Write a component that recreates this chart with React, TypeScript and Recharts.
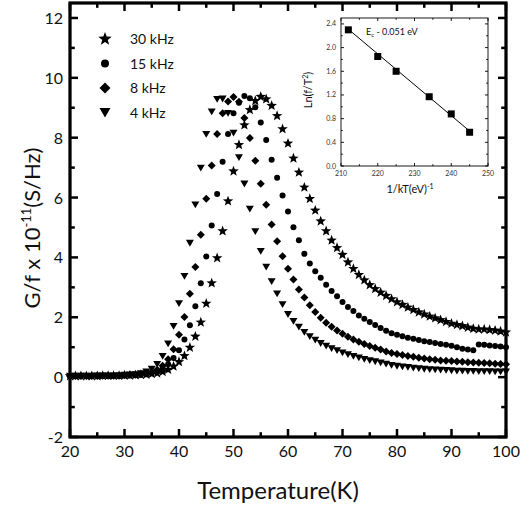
import React from "react";
import {
  ScatterChart,
  Scatter,
  XAxis,
  YAxis,
  ReferenceArea,
  ReferenceLine,
} from "recharts";

// Temperature grid (K)
const temps = [
  20, 21, 22, 23, 24, 25, 26, 27, 28, 29,
  30, 31, 32, 33, 34, 35, 36, 37, 38, 39,
  40, 41, 42, 43, 44, 45, 46, 47, 48, 49,
  50, 51, 52, 53, 54, 55, 56, 57, 58, 59,
  60, 61, 62, 63, 64, 65, 66, 67, 68, 69,
  70, 71, 72, 73, 74, 75, 76, 77, 78, 79,
  80, 81, 82, 83, 84, 85, 86, 87, 88, 89,
  90, 91, 92, 93, 94, 95, 96, 97, 98, 99, 100,
];

// G/f x 1e-11 (S/Hz) per frequency
const g30k = [
  0.04, 0.04, 0.04, 0.04, 0.04, 0.04, 0.05, 0.05, 0.05, 0.05,
  0.06, 0.06, 0.07, 0.08, 0.09, 0.11, 0.13, 0.18, 0.25, 0.36,
  0.51, 0.71, 0.99, 1.36, 1.83, 2.46, 3.14, 3.98, 4.88, 5.88,
  6.88, 7.76, 8.42, 8.93, 9.23, 9.37, 9.29, 9.07, 8.73, 8.29,
  7.81, 7.31, 6.84, 6.34, 5.96, 5.57, 5.21, 4.88, 4.57, 4.32,
  4.09, 3.84, 3.62, 3.42, 3.24, 3.08, 2.95, 2.83, 2.72, 2.61,
  2.51, 2.42, 2.33, 2.25, 2.17, 2.1, 2.03, 1.97, 1.91, 1.85,
  1.79, 1.75, 1.71, 1.66, 1.62, 1.6, 1.6, 1.58, 1.56, 1.53, 1.5,
];
const g15k = [
  0.04, 0.04, 0.04, 0.04, 0.04, 0.04, 0.05, 0.05, 0.05, 0.05,
  0.06, 0.07, 0.08, 0.09, 0.11, 0.14, 0.2, 0.29, 0.43, 0.64,
  0.9, 1.26, 1.73, 2.37, 3.14, 4.03, 5.07, 6.12, 7.2, 8.12,
  8.82, 9.17, 9.39, 9.32, 9.02, 8.51, 7.92, 7.26, 6.66, 6.07,
  5.53, 5.01, 4.57, 4.12, 3.8, 3.54, 3.32, 3.09, 2.88, 2.7,
  2.51, 2.34, 2.21, 2.06, 1.95, 1.84, 1.74, 1.64, 1.55, 1.47,
  1.42, 1.37, 1.32, 1.28, 1.24, 1.2, 1.17, 1.14, 1.11, 1.08,
  1.05, 1.0, 0.95, 0.92, 0.9, 1.09, 1.08, 1.06, 1.04, 1.02, 1.0,
];
const g8k = [
  0.04, 0.04, 0.04, 0.04, 0.04, 0.04, 0.05, 0.05, 0.05, 0.05,
  0.06, 0.07, 0.08, 0.1, 0.12, 0.17, 0.25, 0.38, 0.6, 0.93,
  1.42, 2.01, 2.79, 3.68, 4.76, 5.96, 7.07, 8.12, 8.82, 9.21,
  9.36, 9.2, 8.66, 7.99, 7.23, 6.46, 5.76, 5.1, 4.54, 4.04,
  3.62, 3.26, 2.93, 2.66, 2.4, 2.18, 1.98, 1.82, 1.68, 1.56,
  1.45, 1.35, 1.26, 1.18, 1.11, 1.04, 0.98, 0.92, 0.86, 0.81,
  0.77, 0.74, 0.71, 0.68, 0.65, 0.62, 0.6, 0.58, 0.56, 0.55,
  0.54, 0.52, 0.51, 0.5, 0.49, 0.48, 0.47, 0.46, 0.45, 0.44, 0.43,
];
const g4k = [
  0.04, 0.04, 0.04, 0.04, 0.04, 0.05, 0.05, 0.05, 0.05, 0.06,
  0.07, 0.08, 0.09, 0.12, 0.18, 0.27, 0.43, 0.7, 1.12, 1.7,
  2.46, 3.37, 4.48, 5.76, 6.99, 8.12, 8.87, 9.29, 9.3, 8.82,
  8.16, 7.34, 6.46, 5.62, 4.87, 4.21, 3.68, 3.2, 2.79, 2.43,
  2.1, 1.87, 1.68, 1.5, 1.36, 1.24, 1.13, 1.04, 0.96, 0.89,
  0.82, 0.76, 0.7, 0.65, 0.6, 0.56, 0.52, 0.48, 0.44, 0.4,
  0.37, 0.35, 0.33, 0.31, 0.29, 0.27, 0.26, 0.25, 0.24, 0.23,
  0.22, 0.21, 0.21, 0.2, 0.2, 0.19, 0.19, 0.19, 0.18, 0.18, 0.18,
];

const xTicks = [20, 25, 30, 35, 40, 45, 50, 55, 60, 65, 70, 75, 80, 85, 90, 95, 100];
const yTicks = [-2, -1, 0, 1, 2, 3, 4, 5, 6, 7, 8, 9, 10, 11, 12];

// Inset: Arrhenius plot
const invKT = [212, 220, 225, 234, 240, 245];
const lnFT2 = [2.3, 1.85, 1.6, 1.17, 0.88, 0.57];
const fitX = [212, 245];
const fitY = [2.31, 0.59];
const insetXTicks = [210, 215, 220, 225, 230, 235, 240, 245, 250];
const insetYTicks = [0, 0.2, 0.4, 0.6, 0.8, 1.0, 1.2, 1.4, 1.6, 1.8, 2.0, 2.2, 2.4];

const FONT = "Lato, 'Open Sans', sans-serif";
// plot boxes in page pixels (match the chart margins below)
const PLOT = { left: 70, right: 506, top: 3, bottom: 437 };
const INSET = { left: 341, right: 488, top: 18, bottom: 166 };

const toPoints = (ys: number[]) => temps.map((t, i) => ({ x: t, y: ys[i] }));

// marker shapes
const starPath = (cx: number, cy: number, r: number) => {
  const pts: string[] = [];
  for (let i = 0; i < 10; i++) {
    const rad = i % 2 === 0 ? r : r * 0.42;
    const a = -Math.PI / 2 + (i * Math.PI) / 5;
    pts.push(`${cx + rad * Math.cos(a)},${cy + rad * Math.sin(a)}`);
  }
  return pts.join(" ");
};

const Star = ({ cx, cy, r = 5.5 }: any) => <polygon points={starPath(cx, cy, r)} fill="#000" />;
const Dot = ({ cx, cy, r = 3 }: any) => <circle cx={cx} cy={cy} r={r} fill="#000" />;
const Diamond = ({ cx, cy, r = 4 }: any) => (
  <polygon points={`${cx},${cy - r} ${cx + r},${cy} ${cx},${cy + r} ${cx - r},${cy}`} fill="#000" />
);
const Tri = ({ cx, cy, r = 4 }: any) => (
  <polygon points={`${cx - r},${cy - r * 0.8} ${cx + r},${cy - r * 0.8} ${cx},${cy + r * 0.9}`} fill="#000" />
);
const Square = ({ cx, cy }: any) => <rect x={cx - 3.5} y={cy - 3.5} width={7} height={7} fill="#000" />;

// tick labels through recharts (tick marks are drawn in the frame overlay)
const MainXTick = ({ x, y, payload }: any) =>
  payload.value % 10 === 0 ? (
    <text x={x} y={y + 20} textAnchor="middle" fontSize={16} fontFamily={FONT} fill="#111">
      {payload.value}
    </text>
  ) : (
    <g />
  );

const MainYTick = ({ x, y, payload }: any) =>
  payload.value % 2 === 0 ? (
    <text x={x - 7} y={y + 6} textAnchor="end" fontSize={16} fontFamily={FONT} fill="#111">
      {payload.value}
    </text>
  ) : (
    <g />
  );

const InsetXTick = ({ x, y, payload }: any) =>
  payload.value % 10 === 0 ? (
    <text x={x} y={y + 10} textAnchor="middle" fontSize={7} fontFamily={FONT} fill="#333">
      {payload.value}
    </text>
  ) : (
    <g />
  );

const InsetYTick = ({ x, y, payload }: any) =>
  Math.round(payload.value * 10) % 4 === 0 ? (
    <text x={x - 5} y={y + 2.5} textAnchor="end" fontSize={7} fontFamily={FONT} fill="#333">
      {payload.value.toFixed(1)}
    </text>
  ) : (
    <g />
  );

// Frame with inward ticks on all four sides
const Frame = ({ box, xDom, yDom, xt, yt, isMajorX, isMajorY, w, len }: any) => {
  const px = (v: number) => box.left + ((v - xDom[0]) / (xDom[1] - xDom[0])) * (box.right - box.left);
  const py = (v: number) => box.bottom - ((v - yDom[0]) / (yDom[1] - yDom[0])) * (box.bottom - box.top);
  return (
    <g stroke="#000" strokeWidth={w} fill="none">
      <rect x={box.left} y={box.top} width={box.right - box.left} height={box.bottom - box.top} />
      {xt.map((v: number) => {
        const l = isMajorX(v) ? len : len * 0.6;
        return (
          <g key={`x${v}`}>
            <line x1={px(v)} x2={px(v)} y1={box.bottom} y2={box.bottom - l} />
            <line x1={px(v)} x2={px(v)} y1={box.top} y2={box.top + l} />
          </g>
        );
      })}
      {yt.map((v: number) => {
        const l = isMajorY(v) ? len : len * 0.6;
        return (
          <g key={`y${v}`}>
            <line x1={box.left} x2={box.left + l} y1={py(v)} y2={py(v)} />
            <line x1={box.right - l} x2={box.right} y1={py(v)} y2={py(v)} />
          </g>
        );
      })}
    </g>
  );
};

const legendItems = [
  { label: "30 kHz", Shape: Star, r: 7 },
  { label: "15 kHz", Shape: Dot, r: 4 },
  { label: "8 kHz", Shape: Diamond, r: 5.5 },
  { label: "4 kHz", Shape: Tri, r: 5.5 },
];

const App: React.FC = () => {
  return (
    <div style={{ position: "absolute", left: 0, top: 0, width: 520, height: 505, background: "#fff" }}>
      <ScatterChart width={520} height={505} margin={{ top: 3, right: 14, left: 10, bottom: 0 }}>
        <XAxis
          type="number"
          dataKey="x"
          domain={[20, 100]}
          ticks={xTicks}
          interval={0}
          height={68}
          axisLine={false}
          tickLine={false}
          tickSize={0}
          tickMargin={0}
          tick={<MainXTick />}
          label={{
            content: () => (
              <text x={278} y={499} textAnchor="middle" fontSize={24} fontFamily={FONT} fill="#111">
                Temperature(K)
              </text>
            ),
          }}
        />
        <YAxis
          type="number"
          dataKey="y"
          domain={[-2, 12.5]}
          ticks={yTicks}
          interval={0}
          allowDataOverflow
          width={60}
          axisLine={false}
          tickLine={false}
          tickSize={0}
          tickMargin={0}
          tick={<MainYTick />}
          label={{
            content: () => (
              <text transform="translate(40,228) rotate(-90)" textAnchor="middle" fontSize={22} fontFamily={FONT} fill="#111">
                G/f x 10
                <tspan dy={-9} fontSize={13}>-11</tspan>
                <tspan dy={9}>(S/Hz)</tspan>
              </text>
            ),
          }}
        />
        <ReferenceArea x1={20} x2={100} y1={-2} y2={12.5} fill="none" stroke="#000" strokeWidth={3} ifOverflow="visible" />
        <Scatter data={toPoints(g4k)} shape={<Tri />} isAnimationActive={false} />
        <Scatter data={toPoints(g8k)} shape={<Diamond />} isAnimationActive={false} />
        <Scatter data={toPoints(g15k)} shape={<Dot />} isAnimationActive={false} />
        <Scatter data={toPoints(g30k)} shape={<Star />} isAnimationActive={false} />
      </ScatterChart>

      {/* Legend */}
      <svg style={{ position: "absolute", left: 90, top: 26 }} width={110} height={100}>
        {legendItems.map(({ label, Shape, r }, i) => (
          <g key={label}>
            <Shape cx={15} cy={13 + i * 24.5} r={r} />
            <text x={40} y={18 + i * 24.5} fontSize={14} fontFamily={FONT} fill="#111">
              {label}
            </text>
          </g>
        ))}
      </svg>

      {/* Inset */}
      <div style={{ position: "absolute", left: 300, top: 0 }}>
        <ScatterChart width={220} height={200} margin={{ top: 18, right: 32, left: 10, bottom: 0 }}>
          <XAxis
            type="number"
            dataKey="x"
            domain={[210, 250]}
            ticks={insetXTicks}
            interval={0}
            height={34}
            axisLine={false}
            tickLine={false}
            tickSize={0}
            tickMargin={0}
            tick={<InsetXTick />}
            label={{
              content: () => (
                <text x={110} y={193} textAnchor="middle" fontSize={11} fontFamily={FONT} fill="#111">
                  1/kT(eV)
                  <tspan dy={-4} fontSize={7}>-1</tspan>
                </text>
              ),
            }}
          />
          <YAxis
            type="number"
            dataKey="y"
            domain={[0, 2.5]}
            ticks={insetYTicks}
            interval={0}
            width={31}
            axisLine={false}
            tickLine={false}
            tickSize={0}
            tickMargin={0}
            tick={<InsetYTick />}
            label={{
              content: () => (
                <text transform="translate(12,90) rotate(-90)" textAnchor="middle" fontSize={11} fontFamily={FONT} fill="#111">
                  Ln(f/T
                  <tspan dy={-4} fontSize={7}>2</tspan>
                  <tspan dy={4}>)</tspan>
                </text>
              ),
            }}
          />
          <ReferenceLine
            segment={[
              { x: fitX[0], y: fitY[0] },
              { x: fitX[1], y: fitY[1] },
            ]}
            stroke="#000"
            strokeWidth={1}
          />
          <Scatter
            data={invKT.map((v, i) => ({ x: v, y: lnFT2[i] }))}
            shape={<Square />}
            isAnimationActive={false}
          />
        </ScatterChart>
        <svg style={{ position: "absolute", left: 0, top: 0 }} width={220} height={60}>
          <text x={66} y={35} fontSize={9} fontFamily={FONT} fill="#111">
            E<tspan dy={2} fontSize={6}>c</tspan>
            <tspan dy={-2}> - 0.051 eV</tspan>
          </text>
        </svg>
      </div>

      {/* Frames and inward ticks */}
      <svg
        style={{ position: "absolute", left: 0, top: 0, pointerEvents: "none" }}
        width={520}
        height={505}
      >
        <Frame
          box={PLOT}
          xDom={[20, 100]}
          yDom={[-2, 12.5]}
          xt={xTicks}
          yt={yTicks}
          isMajorX={(v: number) => v % 10 === 0}
          isMajorY={(v: number) => v % 2 === 0}
          w={2.5}
          len={8}
        />
        <Frame
          box={INSET}
          xDom={[210, 250]}
          yDom={[0, 2.5]}
          xt={insetXTicks}
          yt={insetYTicks}
          isMajorX={(v: number) => v % 10 === 0}
          isMajorY={(v: number) => Math.round(v * 10) % 4 === 0}
          w={0.9}
          len={3}
        />
      </svg>
    </div>
  );
};

export default App;
